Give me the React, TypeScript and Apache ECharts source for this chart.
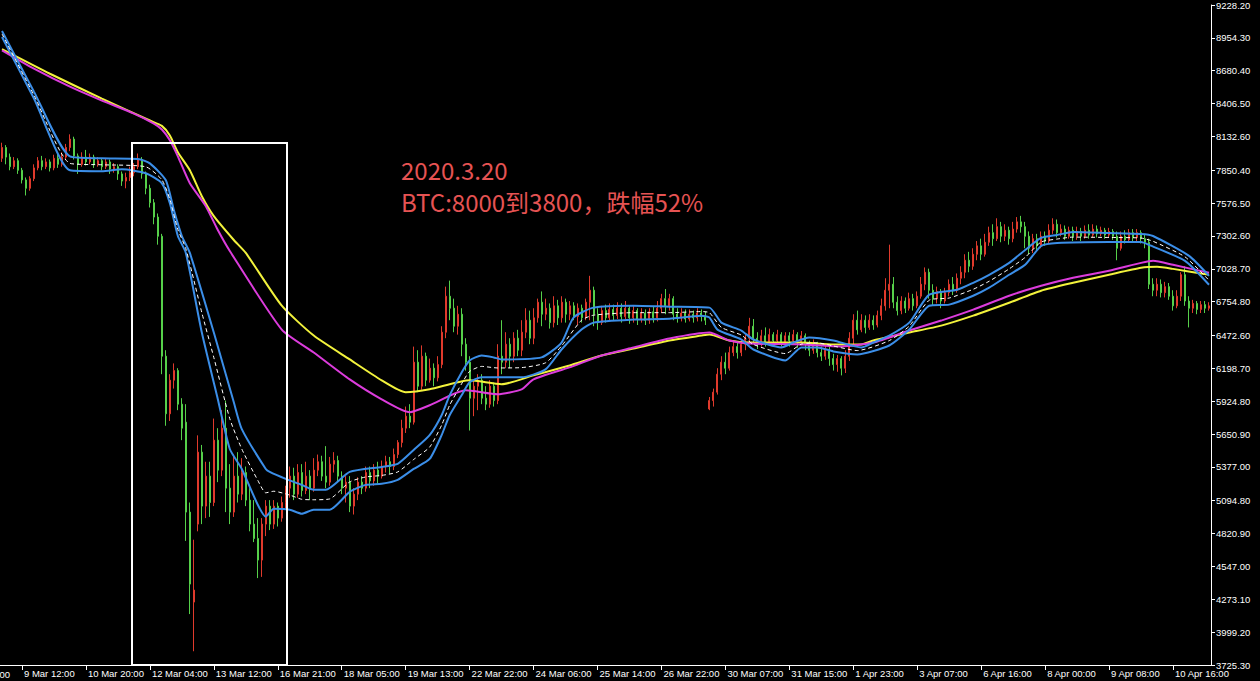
import React, { useEffect, useRef } from "react";
import * as echarts from "echarts";

const tickLabels = [
  "9 Mar 12:00", "10 Mar 20:00", "12 Mar 04:00", "13 Mar 12:00", "16 Mar 21:00",
  "18 Mar 05:00", "19 Mar 13:00", "22 Mar 22:00", "24 Mar 06:00", "25 Mar 14:00",
  "26 Mar 22:00", "30 Mar 07:00", "31 Mar 15:00", "1 Apr 23:00", "3 Apr 07:00",
  "6 Apr 16:00", "8 Apr 00:00", "9 Apr 08:00", "10 Apr 16:00",
];
const offLeftLabel = "8 Mar 04:00";

const yTicks = [
  3725.3, 3999.2, 4273.1, 4547.0, 4820.9, 5094.8, 5377.0, 5650.9, 5924.8, 6198.7,
  6472.6, 6754.8, 7028.7, 7302.6, 7576.5, 7850.4, 8132.6, 8406.5, 8680.4, 8954.3, 9228.2,
];

// [open, close, low, high]
const candles = [
  [7950,8040,7920,8080],[8040,7960,7900,8060],[7960,7880,7850,7990],[7880,7930,7860,7960],[7930,7850,7820,7950],
  [7850,7770,7740,7870],[7770,7700,7640,7790],[7700,7780,7680,7800],[7780,7870,7760,7900],[7870,7930,7850,7960],
  [7930,7880,7850,7970],[7880,7920,7860,7950],[7920,7870,7840,7940],[7870,7950,7850,7980],[7950,7900,7870,7990],
  [7900,7960,7880,8000],[7960,8040,7940,8070],[8040,8110,8010,8150],[8110,7970,7940,8130],[7970,7900,7820,7990],
  [7900,7960,7880,8000],[7960,7920,7890,8020],[7920,7960,7900,7990],[7960,7900,7870,7980],[7900,7930,7880,7960],
  [7930,7880,7850,7950],[7880,7920,7860,7950],[7920,7860,7820,7940],[7860,7880,7830,7910],[7880,7820,7770,7900],
  [7820,7760,7720,7840],[7760,7790,7700,7830],[7790,7830,7760,7880],[7830,7880,7800,7910],[7880,7940,7860,7990],
  [7940,7820,7780,7960],[7820,7700,7650,7840],[7700,7580,7540,7730],[7580,7460,7400,7610],[7460,7300,7230,7490],
  [7300,6300,6150,7320],[6300,5820,5720,6350],[5820,6100,5760,6150],[6100,6180,6030,6240],[6180,5900,5850,6200],
  [5900,5700,5600,5950],[5750,5000,4760,5900],[5000,4400,4150,5080],[4250,4350,3840,4770],[4900,5500,4840,5640],
  [5500,5050,4900,5560],[5050,5300,4950,5420],[5300,5080,4960,5420],[5080,5600,5050,5780],[5600,5350,5250,5700],
  [5350,5700,5300,5850],[5700,5200,5000,5930],[5200,5000,4900,5400],[5000,5300,4960,5480],[5300,5150,5080,5500],
  [5150,5330,5100,5450],[5330,5100,5050,5380],[5100,4900,4840,5200],[4900,4780,4750,5100],[4780,4600,4450,4950],
  [4600,4900,4460,4950],[4900,5050,4800,5100],[5050,4900,4850,5100],[4900,5050,4860,5100],[5050,4950,4880,5080],
  [4950,5080,4920,5130],[5080,5200,5030,5220],[5200,5300,5120,5380],[5300,5150,5100,5370],[5150,5330,5120,5400],
  [5330,5180,5130,5400],[5180,5300,5150,5420],[5300,5200,5100,5350],[5200,5350,5170,5450],[5350,5420,5300,5480],
  [5420,5300,5260,5470],[5300,5250,5200,5550],[5250,5400,5220,5460],[5400,5430,5330,5500],[5430,5300,5250,5470],
  [5300,5200,5150,5340],[5200,5250,5080,5300],[5250,5050,5000,5300],[5050,5150,4980,5200],[5150,5250,5100,5290],
  [5250,5200,5150,5300],[5200,5330,5170,5380],[5330,5260,5200,5380],[5260,5350,5220,5400],[5350,5300,5240,5420],
  [5300,5380,5280,5430],[5380,5420,5330,5470],[5420,5380,5320,5460],[5380,5480,5350,5530],[5480,5580,5450,5600],
  [5580,5700,5540,5770],[5700,5800,5660,5880],[5800,5750,5700,5900],[5750,6250,5730,6380],[6250,6050,6000,6350],
  [6050,6300,6020,6390],[6300,6100,6050,6330],[6100,6200,6080,6280],[6200,6120,6050,6240],[6120,6230,6090,6300],
  [6230,6500,6200,6550],[6500,6800,6450,6880],[6800,6700,6600,6930],[6700,6550,6500,6780],[6550,6650,6480,6720],
  [6650,6400,6300,6700],[6400,6250,6180,6450],[6250,5950,5680,6300],[5950,6050,5800,6100],[6050,6100,5850,6150],
  [6100,5950,5900,6150],[5950,5900,5850,6050],[5900,6050,5870,6100],[6050,5930,5880,6080],[5930,6300,5900,6400],
  [6300,6250,6150,6600],[6250,6400,6200,6500],[6400,6300,6200,6450],[6300,6450,6250,6500],[6450,6350,6300,6520],
  [6350,6500,6300,6600],[6500,6600,6450,6700],[6600,6450,6400,6680],[6450,6620,6400,6700],[6620,6750,6580,6780],
  [6750,6650,6550,6840],[6650,6700,6600,6780],[6700,6580,6530,6740],[6580,6720,6540,6800],[6720,6620,6560,6770],
  [6620,6750,6580,6800],[6750,6650,6580,6780],[6650,6720,6600,6760],[6720,6630,6600,6750],[6630,6700,6560,6740],
  [6700,6620,6580,6730],[6620,6750,6600,6780],[6750,6850,6600,6970],[6850,6650,6550,6880],[6650,6580,6520,6700],
  [6580,6680,6560,6720],[6680,6620,6580,6730],[6620,6690,6600,6740],[6690,6640,6600,6730],[6640,6700,6610,6750],
  [6700,6630,6580,6740],[6630,6700,6600,6760],[6700,6620,6570,6720],[6620,6680,6580,6720],[6680,6610,6560,6700],
  [6610,6660,6580,6700],[6660,6600,6560,6690],[6600,6670,6570,6700],[6670,6620,6580,6710],[6620,6700,6590,6760],
  [6700,6780,6660,6820],[6780,6720,6650,6860],[6720,6780,6680,6820],[6780,6650,6600,6800],[6650,6620,6580,6700],
  [6620,6660,6590,6700],[6660,6610,6580,6690],[6610,6650,6590,6690],[6650,6620,6580,6680],[6620,6660,6590,6700],
  [6660,6630,6590,6690],[6630,6600,6560,6670],[5860,5930,5850,5960],[5930,6000,5880,6030],[6000,6150,5980,6200],
  [6150,6250,6100,6300],[6250,6200,6150,6330],[6200,6330,6180,6380],[6330,6380,6300,6420],[6380,6330,6280,6420],
  [6330,6400,6300,6430],[6400,6450,6350,6480],[6450,6550,6400,6620],[6550,6450,6400,6610],[6450,6400,6360,6500],
  [6400,6470,6380,6520],[6470,6420,6380,6540],[6420,6480,6400,6530],[6480,6430,6390,6500],[6430,6480,6400,6520],
  [6480,6420,6380,6500],[6420,6470,6380,6500],[6470,6430,6380,6500],[6430,6480,6400,6520],[6480,6420,6370,6500],
  [6420,6470,6390,6510],[6470,6400,6350,6490],[6400,6350,6300,6430],[6350,6400,6320,6440],[6400,6330,6290,6420],
  [6330,6300,6260,6380],[6300,6350,6270,6400],[6350,6280,6220,6380],[6280,6230,6180,6320],[6230,6280,6170,6310],
  [6280,6200,6140,6300],[6200,6300,6160,6350],[6300,6450,6260,6500],[6450,6600,6400,6650],[6600,6520,6480,6680],
  [6520,6600,6500,6650],[6600,6540,6490,6640],[6540,6600,6520,6650],[6600,6560,6520,6640],[6560,6640,6540,6680],
  [6640,6720,6600,6780],[6720,6850,6680,6950],[6850,6900,6700,7230],[6900,6750,6700,6960],[6750,6680,6640,6800],
  [6680,6760,6650,6800],[6760,6700,6660,6790],[6700,6780,6680,6830],[6780,6720,6680,6820],[6720,6800,6700,6840],
  [6800,6900,6780,6960],[6900,7000,6850,7040],[7000,6850,6780,7030],[6850,6780,6720,6900],[6780,6840,6740,6880],
  [6840,6760,6700,6860],[6760,6830,6740,6870],[6830,6900,6800,6940],[6900,6850,6810,6960],[6850,6950,6830,6990],
  [6950,7000,6900,7050],[7000,7100,6950,7150],[7100,7050,7000,7170],[7050,7150,7020,7200],[7150,7220,7100,7260],
  [7220,7150,7100,7280],[7150,7250,7130,7320],[7250,7330,7220,7380],[7330,7280,7220,7400],[7280,7380,7260,7450],
  [7380,7300,7250,7420],[7300,7350,7260,7400],[7350,7280,7230,7380],[7280,7360,7250,7420],[7360,7420,7330,7460],
  [7420,7380,7330,7470],[7380,7300,7200,7420],[7300,7200,7150,7340],[7200,7280,7160,7320],[7280,7220,7180,7320],
  [7220,7300,7200,7340],[7300,7260,7220,7340],[7260,7350,7240,7400],[7350,7400,7320,7450],[7400,7330,7290,7440],
  [7330,7360,7300,7400],[7360,7300,7270,7390],[7300,7350,7280,7380],[7350,7300,7260,7380],[7300,7340,7270,7380],
  [7340,7300,7260,7370],[7300,7350,7280,7390],[7350,7310,7280,7400],[7310,7360,7290,7400],[7360,7320,7290,7390],
  [7320,7350,7300,7380],[7350,7310,7280,7370],[7310,7340,7290,7370],[7340,7300,7270,7360],[7300,7200,7100,7340],
  [7200,7300,7180,7340],[7300,7270,7240,7350],[7270,7330,7250,7360],[7330,7290,7250,7360],[7290,7330,7260,7360],
  [7330,7280,7240,7350],[7280,7250,7200,7320],[7250,6900,6860,7280],[6900,6850,6800,6950],[6850,6900,6800,6950],
  [6900,6830,6790,6940],[6830,6880,6790,6920],[6880,6800,6770,6910],[6800,6720,6680,6850],[6720,6800,6700,6850],
  [6800,6980,6760,7000],[6980,6760,6720,7050],[6760,6700,6540,6800],[6700,6740,6660,6770],[6740,6690,6650,6760],
  [6690,6730,6660,6760],[6730,6700,6660,6760],[6700,6720,6680,6750],
];

// [bar index, value]
const yellowMA = [
  [0,8860],[12,8655],[25,8448],[37,8265],[40,8220],[42,8140],[44,8000],[47,7850],[50,7634],[53,7468],[58,7269],[61,7161],
  [70,6721],[78,6472],[87,6273],[95,6099],[101,6000],[107,6024],[117,6099],[125,6066],[133,6140],[142,6223],
  [150,6306],[158,6364],[167,6431],[175,6472],[177,6481],[182,6431],[187,6414],[200,6414],[208,6398],[215,6398],
  [218,6431],[227,6497],[235,6555],[243,6638],[252,6746],[260,6846],[268,6912],[277,6979],[285,7037],[289,7045],
  [293,7028],[302,6979],
];
const magentaMA = [
  [0,8850],[8,8697],[17,8547],[25,8431],[33,8323],[38,8240],[40,8190],[42,8100],[44,7966],[47,7742],[51,7551],[54,7352],
  [57,7177],[70,6522],[78,6331],[87,6107],[95,5941],[102,5833],[107,5891],[116,6016],[124,5983],[130,6024],
  [133,6107],[142,6207],[150,6306],[158,6373],[167,6447],[177,6497],[182,6431],[187,6406],[200,6398],[210,6381],
  [218,6414],[227,6514],[235,6597],[243,6688],[252,6804],[260,6887],[268,6954],[277,7012],[285,7078],[288,7095],
  [293,7062],[302,6995],
];
const upperBand = [
  [0,9012],[8,8506],[17,7966],[25,7950],[34,7945],[37,7908],[41,7767],[43,7518],[45,7302],[47,7161],[53,6497],
  [58,5916],[60,5692],[66,5360],[67,5335],[71,5277],[75,5227],[78,5186],[81,5186],[87,5335],[95,5377],[99,5402],
  [103,5518],[107,5642],[110,5808],[112,5974],[115,6165],[117,6265],[120,6306],[123,6290],[125,6273],[135,6290],
  [140,6414],[143,6622],[148,6705],[158,6721],[167,6713],[177,6705],[180,6580],[185,6514],[188,6439],[195,6373],
  [198,6414],[202,6456],[208,6431],[215,6373],[218,6414],[222,6472],[227,6580],[232,6813],[239,6854],[243,6912],
  [247,6979],[252,7078],[256,7186],[260,7286],[264,7311],[268,7336],[277,7327],[285,7319],[288,7302],[297,7136],
  [302,6970],
];
const lowerBand = [
  [0,8962],[8,8448],[17,7850],[25,7842],[30,7858],[36,7825],[40,7742],[42,7576],[44,7302],[46,7161],[50,6497],
  [54,5941],[57,5526],[60,5360],[64,5061],[66,4962],[68,5028],[72,5020],[75,4987],[78,5020],[82,5020],[87,5169],
  [91,5227],[95,5236],[99,5269],[103,5360],[107,5443],[110,5642],[112,5808],[115,5974],[117,6082],[120,6124],
  [124,6124],[130,6124],[136,6190],[140,6356],[145,6522],[148,6580],[158,6605],[167,6613],[175,6638],[177,6622],
  [179,6522],[185,6439],[188,6356],[196,6265],[200,6373],[204,6373],[208,6340],[214,6315],[222,6389],[227,6522],
  [232,6721],[237,6730],[243,6804],[247,6871],[252,6979],[256,7062],[260,7219],[264,7244],[277,7252],[285,7252],
  [287,7228],[296,7095],[302,6896],
];
const centerLine = [
  [0,8987],[8,8477],[17,7908],[25,7896],[36,7879],[40,7771],[42,7608],[44,7356],[46,7196],[50,6663],[53,6289],
  [57,5779],[60,5526],[64,5265],[66,5161],[68,5174],[72,5142],[75,5107],[78,5103],[82,5110],[87,5252],[91,5293],
  [95,5306],[99,5335],[103,5439],[107,5542],[110,5725],[112,5891],[115,6070],[117,6173],[120,6215],[124,6202],
  [130,6205],[136,6245],[140,6385],[145,6600],[148,6642],[158,6663],[167,6663],[175,6672],[177,6663],[180,6540],
  [185,6476],[188,6398],[196,6322],[200,6400],[204,6411],[208,6385],[214,6347],[222,6430],[227,6551],[232,6767],
  [237,6785],[243,6858],[247,6925],[252,7028],[256,7124],[260,7252],[264,7277],[268,7293],[277,7290],[285,7285],
  [288,7258],[296,7128],[302,6933],
];

const annoLine1 = "2020.3.20";
const annoLine2 = "BTC:8000到3800，跌幅52%";

export default function App() {
  const ref = useRef<HTMLDivElement>(null);
  useEffect(() => {
    document.body.style.margin = "0";
    document.body.style.background = "#000";
    const chart = echarts.init(ref.current!, null, { renderer: "svg" });
    const cats = candles.map((_, i) => String(i));
    const first = 5;
    const step = 16;
    const showIdx = (i: number) => i >= first && (i - first) % step === 0;
    const font = "'Liberation Sans', Arial, sans-serif";
    const lbl = { fontFamily: font, fontSize: 9.5, color: "#ffffff" };
    const line = (data: number[][], color: string, width: number, type: any = "solid", z = 3) => ({
      type: "line",
      data,
      showSymbol: false,
      symbol: "none",
      smooth: 0.2,
      z,
      lineStyle: { color, width, type },
    });
    chart.setOption({
      animation: false,
      backgroundColor: "#000000",
      grid: { left: 0, right: 49, top: 2, bottom: 16, containLabel: false },
      xAxis: {
        type: "category",
        data: cats,
        boundaryGap: true,
        axisLine: { show: true, lineStyle: { color: "#ffffff", width: 1 } },
        axisTick: {
          show: true,
          alignWithLabel: true,
          interval: (i: number) => showIdx(i),
          length: 5,
          lineStyle: { color: "#ffffff" },
        },
        axisLabel: {
          interval: (i: number) => showIdx(i),
          formatter: (_v: string, i: number) => tickLabels[(i - first) / step] ?? "",
          align: "left",
          margin: 3,
          padding: [0, 0, 0, 2],
          ...lbl,
        },
        splitLine: { show: false },
      },
      yAxis: {
        type: "value",
        position: "right",
        min: 3725.3,
        max: 9228.2,
        axisLine: { show: true, lineStyle: { color: "#ffffff", width: 1 } },
        axisTick: { show: true, length: 4, customValues: yTicks, lineStyle: { color: "#ffffff" } },
        axisLabel: {
          customValues: yTicks,
          formatter: (v: number) => v.toFixed(2),
          margin: 5,
          verticalAlign: "middle",
          ...lbl,
        },
        splitLine: { show: false },
      },
      series: [
        {
          type: "candlestick",
          data: candles,
          barWidth: 1.5,
          large: false,
          progressive: 0,
          z: 2,
          itemStyle: {
            color: "#e03a2c",
            color0: "#56d04a",
            borderColor: "#e03a2c",
            borderColor0: "#56d04a",
            borderWidth: 1,
          },
        },
        line(yellowMA, "#f2f23c", 2),
        line(magentaMA, "#dc3cdc", 2),
        line(upperBand, "#3b8ee8", 2),
        line(lowerBand, "#3b8ee8", 2),
        line(centerLine, "#ffffff", 1, [4, 3], 4),
      ],
      graphic: [
        {
          type: "rect",
          z: 100,
          shape: { x: 132, y: 143, width: 155, height: 522 },
          style: { fill: "none", stroke: "#ffffff", lineWidth: 2 },
        },
        {
          type: "text",
          z: 100,
          x: 401,
          y: 169,
          style: {
            text: annoLine1,
            fill: "#e65353",
            fontSize: 24,
            fontFamily: "'Noto Sans CJK SC', 'Noto Sans', sans-serif",
            align: "left",
            verticalAlign: "middle",
          },
        },
        {
          type: "text",
          z: 100,
          x: 401,
          y: 201.5,
          style: {
            text: annoLine2,
            fill: "#e65353",
            fontSize: 24,
            fontFamily: "'Noto Sans CJK SC', 'Noto Sans', sans-serif",
            align: "left",
            verticalAlign: "middle",
          },
        },
        {
          type: "text",
          z: 100,
          x: 10,
          y: 674,
          style: {
            text: offLeftLabel,
            fill: "#ffffff",
            fontSize: 9.5,
            fontFamily: font,
            align: "right",
            verticalAlign: "middle",
          },
        },
      ],
    });
    return () => chart.dispose();
  }, []);
  return <div ref={ref} style={{ width: 1260, height: 681, background: "#000" }} />;
}
